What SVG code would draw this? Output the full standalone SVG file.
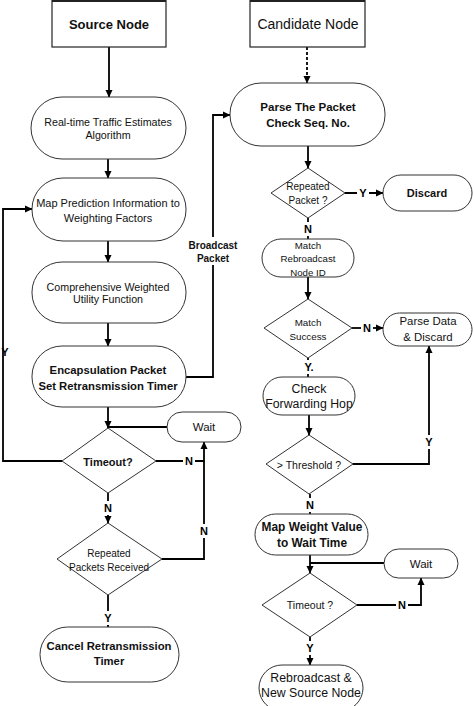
<svg xmlns="http://www.w3.org/2000/svg" width="474" height="706" viewBox="0 0 474 706">
<defs>
<style>
.box{fill:#fff;stroke:#222;stroke-width:1.2}
.sh{fill:#fff;stroke:#333;stroke-width:1}
.t{font-family:"Liberation Sans",Arial,sans-serif;fill:#111;text-anchor:middle;dominant-baseline:central}
.b{font-weight:bold}
.c{fill:none;stroke:#000;stroke-width:1.8}
.lbl{font-family:"Liberation Sans",Arial,sans-serif;font-size:11px;font-weight:bold;fill:#000;text-anchor:middle;dominant-baseline:central}
</style>
<marker id="ah" markerWidth="8" markerHeight="8" refX="7" refY="4" orient="auto" markerUnits="userSpaceOnUse">
<path d="M0,0.5 L7.5,4 L0,7.5 Z" fill="#000"/>
</marker>
</defs>
<rect width="474" height="706" fill="#fff"/>

<g id="connectors">
<path class="c" d="M109,47 V97" marker-end="url(#ah)"/>
<path class="c" d="M108,159 V178" marker-end="url(#ah)"/>
<path class="c" d="M108,241 V262" marker-end="url(#ah)"/>
<path class="c" d="M108,323 V346" marker-end="url(#ah)"/>
<path class="c" d="M108,407 V428" marker-end="url(#ah)"/>
<path class="c" d="M167,427 H108"/>
<path class="c" d="M62,461 H3 V209 H32" marker-end="url(#ah)"/>
<path class="c" d="M156,461 H204 V442" marker-end="url(#ah)"/>
<path class="c" d="M108,493 V523" marker-end="url(#ah)"/>
<path class="c" d="M162,559 H204 V461"/>
<path class="c" d="M108,595 V627" marker-end="url(#ah)"/>
<path class="c" d="M186,377 H213 V115 H230" stroke-width="3" marker-end="url(#ah)"/>
<path class="c" d="M307,47 V83" stroke-dasharray="3,2" marker-end="url(#ah)"/>
<path class="c" d="M308,146 V168" marker-end="url(#ah)"/>
<path class="c" d="M345,193 H383" marker-end="url(#ah)"/>
<path class="c" d="M308,218 V239"/>
<path class="c" d="M308,277 V299" marker-end="url(#ah)"/>
<path class="c" d="M352,328 H383" marker-end="url(#ah)"/>
<path class="c" d="M308,358 V377"/>
<path class="c" d="M309,415 V435" marker-end="url(#ah)"/>
<path class="c" d="M353,464 H429 V346" marker-end="url(#ah)"/>
<path class="c" d="M310,494 V514"/>
<path class="c" d="M310,555 V573" marker-end="url(#ah)"/>
<path class="c" d="M384,563 H310"/>
<path class="c" d="M357,605 H421 V578" marker-end="url(#ah)"/>
<path class="c" d="M310,637 V665" marker-end="url(#ah)"/>
</g>

<g id="labels">
<text class="lbl" x="5" y="352">Y</text>
<rect x="183" y="454" width="12" height="14" fill="#fff"/>
<text class="lbl" x="189" y="461">N</text>
<rect x="102" y="501" width="12" height="14" fill="#fff"/>
<text class="lbl" x="108" y="508">N</text>
<rect x="198" y="524" width="12" height="14" fill="#fff"/>
<text class="lbl" x="204" y="531">N</text>
<rect x="102" y="611" width="12" height="14" fill="#fff"/>
<text class="lbl" x="108" y="618">Y</text>
<rect x="187" y="237" width="52" height="28" fill="#fff"/>
<text class="t b" x="213" y="245" style="font-size:10px">Broadcast</text>
<text class="t b" x="213" y="258" style="font-size:10px">Packet</text>
<rect x="357" y="186" width="12" height="14" fill="#fff"/>
<text class="lbl" x="363" y="193">Y</text>
<rect x="302" y="222" width="12" height="14" fill="#fff"/>
<text class="lbl" x="308" y="229">N</text>
<rect x="361" y="321" width="12" height="14" fill="#fff"/>
<text class="lbl" x="367" y="328">N</text>
<rect x="302" y="360" width="12" height="14" fill="#fff"/>
<text class="lbl" x="309" y="367">Y.</text>
<rect x="423" y="435" width="12" height="14" fill="#fff"/>
<text class="lbl" x="429" y="442">Y</text>
<rect x="304" y="498" width="12" height="14" fill="#fff"/>
<text class="lbl" x="310" y="505">N</text>
<rect x="396" y="598" width="12" height="14" fill="#fff"/>
<text class="lbl" x="402" y="605">N</text>
<rect x="304" y="641" width="12" height="14" fill="#fff"/>
<text class="lbl" x="310" y="648">Y</text>
</g>

<g id="source-node">
<rect class="box" x="52" y="0" width="114" height="47"/>
<rect x="52" y="0" width="114" height="2" fill="#222"/>
<text class="t b" x="109" y="24" style="font-size:13px">Source Node</text>
</g>
<g id="realtime">
<rect class="sh" x="31" y="97" width="155" height="62" rx="31"/>
<text class="t" x="108" y="122" style="font-size:10.7px">Real-time Traffic Estimates</text>
<text class="t" x="108" y="135" style="font-size:10.7px">Algorithm</text>
</g>
<g id="map-prediction">
<rect class="sh" x="32" y="178" width="154" height="63" rx="31"/>
<text class="t" x="108" y="203" style="font-size:11px">Map Prediction Information to</text>
<text class="t" x="108" y="218" style="font-size:11px">Weighting Factors</text>
</g>
<g id="comprehensive">
<rect class="sh" x="32" y="262" width="154" height="61" rx="30"/>
<text class="t" x="108" y="287" style="font-size:10.7px">Comprehensive Weighted</text>
<text class="t" x="108" y="299" style="font-size:10.7px">Utility Function</text>
</g>
<g id="encapsulation">
<rect class="sh" x="32" y="346" width="154" height="61" rx="30"/>
<text class="t b" x="108" y="370" style="font-size:11.3px">Encapsulation Packet</text>
<text class="t b" x="108" y="386" style="font-size:11.3px">Set Retransmission Timer</text>
</g>
<g id="wait-left">
<rect class="sh" x="167" y="412" width="74" height="30" rx="15"/>
<text class="t" x="204" y="427" style="font-size:11.5px">Wait</text>
</g>
<g id="timeout-left">
<polygon class="sh" points="108,428 156,461 108,493 62,461"/>
<text class="t b" x="108" y="462" style="font-size:11px">Timeout?</text>
</g>
<g id="repeated-received">
<polygon class="sh" points="108,523 162,559 108,595 57,559"/>
<text class="t" x="109" y="553" style="font-size:10px">Repeated</text>
<text class="t" x="109" y="567" style="font-size:10px">Packets Received</text>
</g>
<g id="cancel">
<rect class="sh" x="40" y="627" width="139" height="55" rx="27.5"/>
<text class="t b" x="109" y="646" style="font-size:11.3px">Cancel Retransmission</text>
<text class="t b" x="109" y="661" style="font-size:11.3px">Timer</text>
</g>

<g id="candidate-node">
<rect class="box" x="250" y="0" width="115" height="47"/>
<rect x="250" y="0" width="115" height="2" fill="#222"/>
<text class="t" x="308" y="24" style="font-size:14px">Candidate Node</text>
</g>
<g id="parse-packet">
<rect class="sh" x="230" y="83" width="155" height="63" rx="31"/>
<text class="t b" x="308" y="107" style="font-size:11.5px">Parse The Packet</text>
<text class="t b" x="308" y="123" style="font-size:11.5px">Check Seq. No.</text>
</g>
<g id="repeated-packet">
<polygon class="sh" points="308,168 345,193 308,218 271,193"/>
<text class="t" x="308" y="186" style="font-size:10px">Repeated</text>
<text class="t" x="308" y="200" style="font-size:10px">Packet ?</text>
</g>
<g id="discard">
<rect class="sh" x="383" y="175" width="89" height="36" rx="18"/>
<text class="t b" x="427" y="193" style="font-size:11px">Discard</text>
</g>
<g id="match-node">
<rect class="sh" x="262" y="239" width="92" height="38" rx="19"/>
<text class="t" x="308" y="245" style="font-size:9.7px">Match</text>
<text class="t" x="308" y="258" style="font-size:9.7px">Rebroadcast</text>
<text class="t" x="308" y="272" style="font-size:9.7px">Node ID</text>
</g>
<g id="match-success">
<polygon class="sh" points="308,299 352,328 308,358 264,328"/>
<text class="t" x="308" y="322" style="font-size:9.8px">Match</text>
<text class="t" x="308" y="336" style="font-size:9.8px">Success</text>
</g>
<g id="parse-data">
<rect class="sh" x="383" y="313" width="89" height="33" rx="16.5"/>
<text class="t" x="428" y="321" style="font-size:11.4px">Parse Data</text>
<text class="t" x="428" y="337" style="font-size:11.4px">&amp; Discard</text>
</g>
<g id="check-hop">
<rect class="sh" x="263" y="377" width="92" height="38" rx="19"/>
<text class="t" x="309" y="389" style="font-size:12.3px">Check</text>
<text class="t" x="309" y="404" style="font-size:12.3px">Forwarding Hop</text>
</g>
<g id="threshold">
<polygon class="sh" points="309,435 353,464 309,494 266,464"/>
<text class="t" x="309" y="465" style="font-size:10.5px">&gt; Threshold ?</text>
</g>
<g id="map-weight">
<rect class="sh" x="255" y="514" width="113" height="41" rx="20.5"/>
<text class="t b" x="312" y="527" style="font-size:11.9px">Map Weight Value</text>
<text class="t b" x="312" y="543" style="font-size:11.9px">to Wait Time</text>
</g>
<g id="wait-right">
<rect class="sh" x="384" y="549" width="74" height="29" rx="14.5"/>
<text class="t" x="421" y="564" style="font-size:11.5px">Wait</text>
</g>
<g id="timeout-right">
<polygon class="sh" points="310,573 357,605 310,637 262,605"/>
<text class="t" x="310" y="605" style="font-size:10.5px">Timeout ?</text>
</g>
<g id="rebroadcast">
<rect class="sh" x="259" y="665" width="104" height="46" rx="23"/>
<text class="t" x="311" y="678" style="font-size:12.3px">Rebroadcast &amp;</text>
<text class="t" x="311" y="693" style="font-size:12.3px">New Source Node</text>
</g>
</svg>
